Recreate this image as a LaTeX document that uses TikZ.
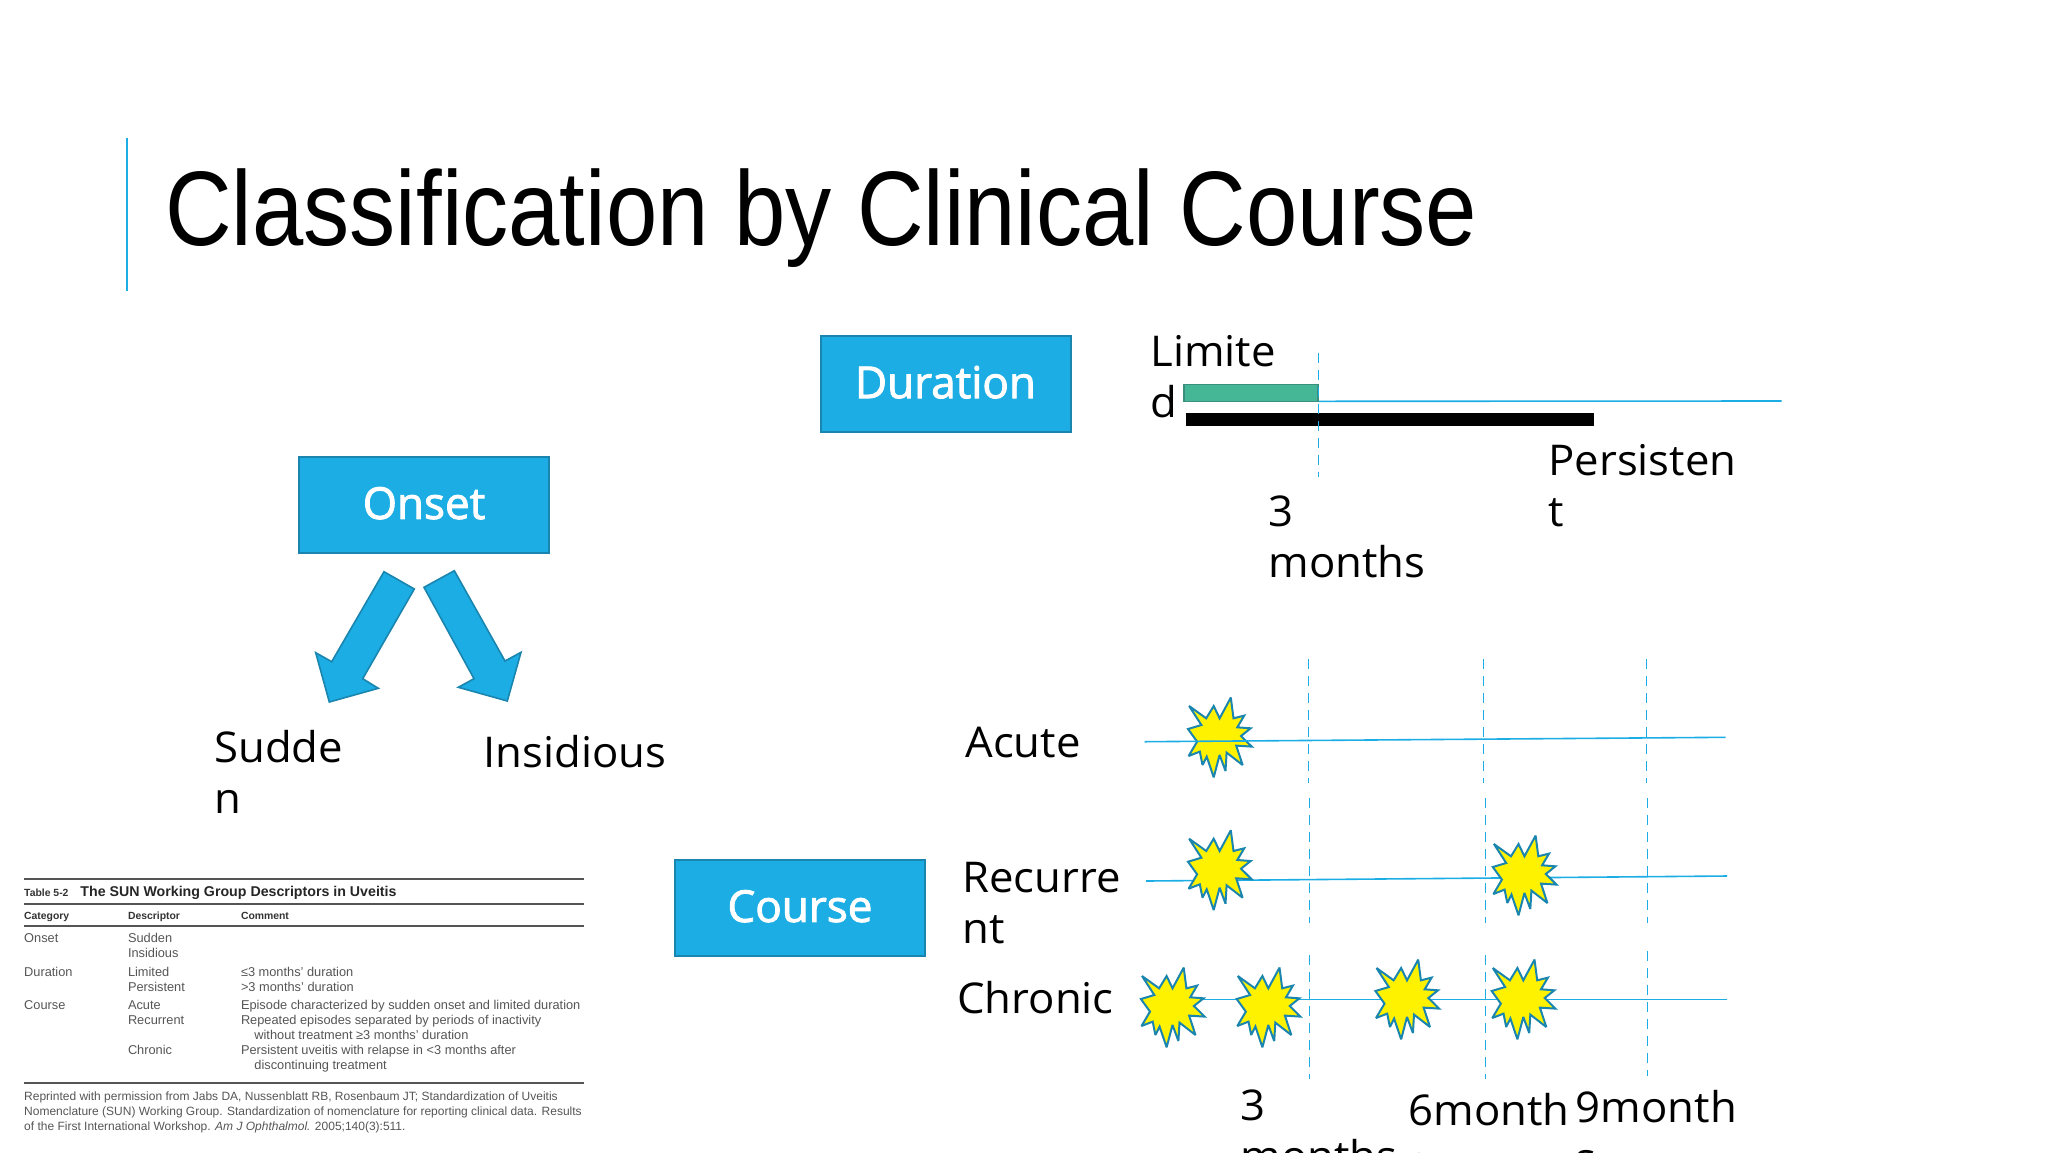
\documentclass[tikz,border=0pt]{standalone}
\usepackage{fontspec}
\setmainfont[FakeStretch=1.03]{Open Sans}
\newfontfamily\titlefont[FakeStretch=0.87]{Liberation Sans}
\newfontfamily\tablefont{Liberation Sans}
\newfontfamily\boxfont[FakeBold=2]{Open Sans}
\definecolor{slideblue}{HTML}{1CADE4}
\definecolor{edgeblue}{HTML}{1A85AE}
\definecolor{limitgreen}{HTML}{45B797}
\definecolor{limitedge}{HTML}{3B8F7F}
\definecolor{tablegray}{HTML}{555555}
\tikzset{
  catbox/.style={draw=edgeblue, fill=slideblue, line width=1pt, text=white, inner sep=0pt,
    minimum width=125pt, minimum height=48pt, font=\boxfont\fontsize{22}{26}\selectfont},
  blockarrow/.style={draw=edgeblue, fill=slideblue, line width=0.8pt},
  timeline/.style={draw=slideblue, line width=0.8pt},
  monthdash/.style={draw=slideblue, line width=0.6pt, dash pattern=on 5pt off 3.5pt},
  burst/.style={draw=edgeblue, fill=yellow, line width=1pt, line join=miter, miter limit=3},
  lbl/.style={anchor=base west, inner sep=0pt, align=left, yshift=-0.5pt, font=\fontsize{21.2}{25.5}\selectfont},
  tabcell/.style={anchor=base west, inner sep=0pt, text=tablegray, font=\tablefont\fontsize{6.4}{7}\selectfont},
  tabnote/.style={tabcell, font=\tablefont\fontsize{6}{7}\selectfont},
  tabhead/.style={tabcell, text=black!80, font=\tablefont\bfseries\fontsize{5.2}{7}\selectfont},
  tabrule/.style={draw=tablegray, line width=0.8pt},
}
\def\burststar(#1,#2){
  \draw[burst, shift={(#1,#2)}] (11.2,-39.7) -- (13.9,-19) -- (24.6,-21.7) -- (17.7,-10) -- (31,-9)
    -- (21.4,-1.3) -- (32.1,9.3) -- (16.6,8.3) -- (23,27.7) -- (7,15.3) -- (5.9,33.7) -- (0,17.7)
    -- (-5.9,40) -- (-12.9,19.3) -- (-17.1,27.7) -- (-19.8,14.3) -- (-31,18.7) -- (-22.5,4.3)
    -- (-31.6,-8.3) -- (-18.2,-12.3) -- (-30.5,-31.3) -- (-13.4,-19) -- (-5.9,-31.3) -- (0,-19) -- cycle;
}
\begin{document}
\begin{tikzpicture}[x=0.5pt,y=-0.5pt]
\useasboundingbox (0,0) rectangle (2048,1152);
% title
\coordinate (bartop) at (127,138);
\coordinate (barbot) at (127,291);
\draw[slideblue, line width=1.2pt] (bartop) -- (barbot);
\node[anchor=base west, inner sep=0pt, font=\titlefont\fontsize{53}{60}\selectfont] (title) at (165,245) {Classification by Clinical Course};
% the three boxes
\node[catbox] (duration) at (945.5,384) {\raisebox{2pt}{Duration}};
\node[catbox] (onset) at (424,505) {\raisebox{2pt}{Onset}};
\node[catbox] (course) at (800,908) {\raisebox{2pt}{Course}};
% onset
\draw[blockarrow] (384,571.7) -- (414.3,589) -- (362.7,678.7) -- (378.3,688.3) -- (329.3,702) -- (315.7,652.7) -- (331.7,661.7) -- cycle;
\draw[blockarrow] (454.3,570.7) -- (424,587.3) -- (474,678.7) -- (458.3,687.3) -- (507.3,701) -- (521,652.3) -- (505,661) -- cycle;
\node[lbl] (sudden) at (214,812) {Sudde\\n};
\node[lbl] (insidious) at (483,766) {Insidious};
% duration
\coordinate (limitend) at (1781.6,401);
\coordinate (limitdashA) at (1318.5,352.7);
\coordinate (limitdashB) at (1318.5,476.7);
\node[draw=limitedge, fill=limitgreen, line width=0.8pt, minimum width=67pt, minimum height=8.5pt, inner sep=0pt] (limitbar) at (1251,393) {};
\node[fill=black, minimum width=204pt, minimum height=6.3pt, inner sep=0pt] (persistbar) at (1390.2,419.3) {};
\draw[monthdash] (limitdashA) -- (limitdashB);
\draw[timeline] (limitbar.south east) ++(0,-1) -- (limitend);
\node[lbl] (limited) at (1150,416.7) {Limite\\d};
\node[lbl] (persistent) at (1548,525) {Persisten\\t};
\node[lbl] (threemonths) at (1268,576.7) {3\\months};
% course
\coordinate (acuteL) at (1144.6,741.7);
\coordinate (acuteR) at (1725.7,737.3);
\coordinate (recurL) at (1146,881);
\coordinate (recurR) at (1727,876);
\coordinate (chronL) at (1172.5,999.3);
\coordinate (chronR) at (1727,999.3);
\foreach \xa/\ya/\yb in {1308.5/659.3/783, 1483.5/659.3/783, 1646.5/659.3/783,
  1309.5/798/922.7, 1485.5/798/922.7, 1647.5/798/922.7,
  1309.5/955/1079, 1485.5/955/1079, 1647.5/951/1075.7}{
  \draw[monthdash] (\xa,\ya) -- (\xa,\yb);
}
\burststar(1219.6,737.3)
\draw[timeline] (acuteL) -- (acuteR);
\draw[timeline] (recurL) -- (recurR);
\draw[timeline] (chronL) -- (chronR);
\burststar(1219.6,870)
\burststar(1524.4,875.3)
\burststar(1172.5,1007.3)
\burststar(1268.3,1007.3)
\burststar(1407,999.3)
\burststar(1523.3,999.3)
\node[lbl] (acute) at (965,756.7) {Acute};
\node[lbl] (recurrent) at (962,942.7) {Recurre\\nt};
\node[lbl] (chronic) at (957,1012) {Chronic};
\node[lbl] (three) at (1240,1170) {3\\months};
\node[lbl] (six) at (1408,1175) {6month\\s};
\node[lbl] (nine) at (1575.5,1172) {9month\\s};
% table
\foreach \ya [count=\n] in {879,904,926,1083}{
  \coordinate (ruleL\n) at (24,\ya);
  \coordinate (ruleR\n) at (584,\ya);
  \draw[tabrule] (ruleL\n) -- (ruleR\n);
}
\node[tabhead] (tabno) at (23.8,896) {Table 5-2};
\node[tabcell, text=black!85, font=\tablefont\bfseries\fontsize{7.1}{8}\selectfont] (tabtitle) at (80,896) {The SUN Working Group Descriptors in Uveitis};
\foreach \xa/\ya/\txt [count=\n] in {23.8/919.3/Category, 127.6/919.3/Descriptor, 240.6/919.3/Comment}{
  \node[tabhead] (head\n) at (\xa,\ya) {\txt};
}
\foreach \xa/\ya/\txt [count=\n] in {
  23.8/942.7/Onset, 127.6/942.7/Sudden, 127.6/957.7/Insidious,
  23.8/976/Duration, 127.6/976/Limited, 240.6/976/{≤3 months’ duration},
  127.6/991/Persistent, 240.6/991/{>3 months’ duration},
  23.8/1009.3/Course, 127.6/1009.3/Acute, 240.6/1009.3/{Episode characterized by sudden onset and limited duration},
  127.6/1024.3/Recurrent, 240.6/1024.3/{Repeated episodes separated by periods of inactivity},
  254/1039.3/{without treatment ≥3 months’ duration},
  127.6/1054/Chronic, 240.6/1054/{Persistent uveitis with relapse in <3 months after},
  254/1069/{discontinuing treatment}}{
  \node[tabcell] (cell\n) at (\xa,\ya) {\txt};
}
\foreach \ya/\txt [count=\n] in {
  1100/{Reprinted with permission from Jabs DA, Nussenblatt RB, Rosenbaum JT; Standardization of Uveitis},
  1115/{Nomenclature (SUN) Working Group. Standardization of nomenclature for reporting clinical data. Results},
  1130/{of the First International Workshop. \textit{Am J Ophthalmol.} 2005;140(3):511.}}{
  \node[tabnote] (note\n) at (23.8,\ya) {\txt};
}
\end{tikzpicture}
\end{document}
